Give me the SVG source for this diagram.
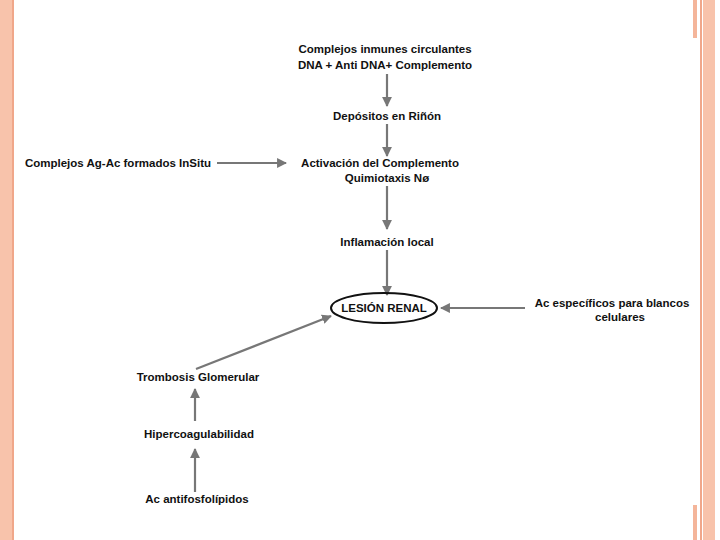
<svg xmlns="http://www.w3.org/2000/svg" width="720" height="540" viewBox="0 0 720 540">
<defs>
<marker id="ah" viewBox="0 0 10 10" refX="9" refY="5" markerWidth="4.5" markerHeight="4.5" orient="auto"><path d="M0,0 L10,5 L0,10 z" fill="#777"/></marker>
<style>
text{font-family:"Liberation Sans",Arial,sans-serif;font-size:11.5px;font-weight:bold;fill:#111;text-anchor:middle}
.c line{stroke:#777;stroke-width:2.2;marker-end:url(#ah)}
</style>
</defs>
<rect width="720" height="540" fill="#fff"/>
<rect x="0" y="0" width="12" height="540" fill="#f8c3ab"/>
<rect x="12" y="0" width="2" height="540" fill="#f0a78a"/>
<rect x="693" y="0" width="4" height="38" fill="#f4b59a"/>
<rect x="703" y="0" width="12" height="540" fill="#f8c3ab"/>
<rect x="700" y="0" width="2" height="540" fill="#f0a78a"/>
<rect x="693" y="505" width="4" height="35" fill="#f4b59a"/>
<g class="c">
<line x1="387" y1="74" x2="387" y2="106"/>
<line x1="387" y1="124" x2="387" y2="156"/>
<line x1="217" y1="163" x2="286" y2="163"/>
<line x1="387" y1="186" x2="387" y2="229"/>
<line x1="387" y1="250" x2="387" y2="295"/>
<line x1="525" y1="308" x2="441" y2="308"/>
<line x1="196" y1="369" x2="331" y2="316"/>
<line x1="195" y1="421" x2="195" y2="389"/>
<line x1="195" y1="492" x2="195" y2="449"/>
</g>
<g id="n1"><text x="385" y="53">Complejos inmunes circulantes</text><text x="385" y="69">DNA + Anti DNA+ Complemento</text></g>
<g id="n2"><text x="387" y="120">Depósitos en Riñón</text></g>
<g id="n3"><text x="380" y="167">Activación del Complemento</text><text x="387" y="182">Quimiotaxis Nø</text></g>
<g id="n4"><text x="118" y="167">Complejos Ag-Ac formados InSitu</text></g>
<g id="n5"><text x="387" y="246">Inflamación local</text></g>
<g id="n6"><ellipse cx="384" cy="308" rx="53" ry="15" fill="none" stroke="#111" stroke-width="2"/><text x="384" y="312">LESIÓN RENAL</text></g>
<g id="n7"><text x="612" y="307">Ac específicos para blancos</text><text x="620" y="321">celulares</text></g>
<g id="n8"><text x="198" y="381">Trombosis Glomerular</text></g>
<g id="n9"><text x="199" y="438">Hipercoagulabilidad</text></g>
<g id="n10"><text x="197" y="503">Ac antifosfolípidos</text></g>
</svg>
